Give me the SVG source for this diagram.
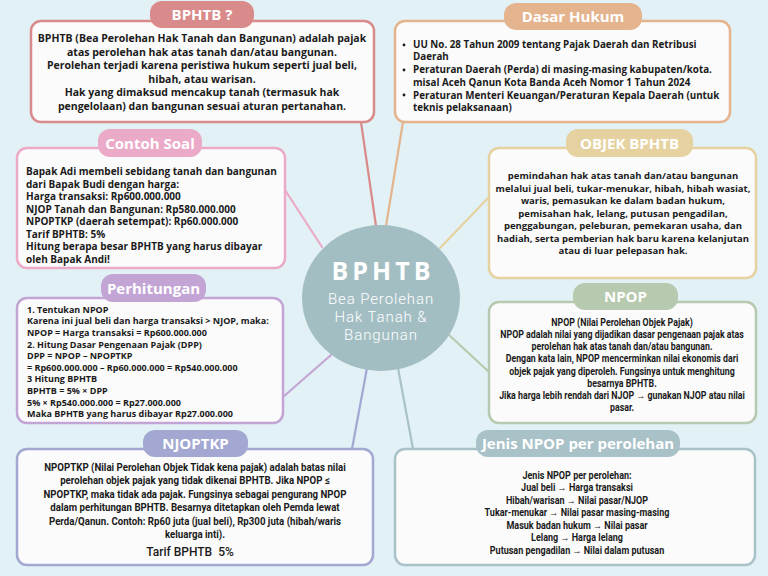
<svg xmlns="http://www.w3.org/2000/svg" width="768" height="576" viewBox="0 0 768 576">
<style>
.box{fill:#fbfbfb;stroke-width:2.5}
.t{font-family:"Open Sans","Liberation Sans",sans-serif;font-weight:700;fill:#1a1a1a}
.c{font-family:Roboto,"Liberation Sans",sans-serif;font-weight:700;fill:#1a1a1a}
.mid{text-anchor:middle}
.pt{font-family:"Open Sans","Liberation Sans",sans-serif;font-weight:700;font-size:15px;fill:#fff;text-anchor:middle}
.ln{fill:none;stroke-width:2.2;stroke-linecap:round}
.ct{font-family:Roboto,"Liberation Sans",sans-serif;font-weight:300;font-size:15px;letter-spacing:0.9px;fill:#fff;text-anchor:middle}
</style>
<rect width="768" height="576" fill="#e2f1f5"/>
<g id="connectors">
<line class="ln" stroke="#d98a8a" x1="361" y1="122" x2="376" y2="226"/>
<line class="ln" stroke="#e4b48f" x1="403" y1="122" x2="386" y2="226"/>
<line class="ln" stroke="#ebaac8" x1="285" y1="190" x2="322" y2="247"/>
<line class="ln" stroke="#e6d2a0" x1="489" y1="197" x2="440" y2="248"/>
<line class="ln" stroke="#c3a5d5" x1="283" y1="397" x2="331" y2="355"/>
<line class="ln" stroke="#b7c9ae" x1="489" y1="372" x2="448" y2="334"/>
<line class="ln" stroke="#a2a8d2" x1="352" y1="449" x2="367" y2="368"/>
<line class="ln" stroke="#a9c2c8" x1="413" y1="449" x2="398" y2="368"/>
</g>
<g id="center">
<ellipse cx="381" cy="298" rx="79" ry="73" fill="#a3bec3"/>
<text x="383" y="280" text-anchor="middle" font-family="'Open Sans','Liberation Sans',sans-serif" font-weight="700" font-size="25" letter-spacing="4" fill="#fff">BPHTB</text>
<text class="ct" x="381" y="304">Bea Perolehan</text>
<text class="ct" x="381" y="322">Hak Tanah &amp;</text>
<text class="ct" x="381" y="340">Bangunan</text>
</g>
<g id="bphtb">
<rect class="box" x="31" y="21" width="343" height="101" rx="10" stroke="#d98a8a"/>
<rect x="150" y="1" width="104" height="27" rx="12" fill="#d98a8a"/>
<text class="pt" x="202" y="20">BPHTB ?</text>
<g class="t mid" font-size="10.5">
<text x="202" y="42">BPHTB (Bea Perolehan Hak Tanah dan Bangunan) adalah pajak</text>
<text x="202" y="55.5">atas perolehan hak atas tanah dan/atau bangunan.</text>
<text x="202" y="69">Perolehan terjadi karena peristiwa hukum seperti jual beli,</text>
<text x="202" y="82.5">hibah, atau warisan.</text>
<text x="202" y="96">Hak yang dimaksud mencakup tanah (termasuk hak</text>
<text x="202" y="109.5">pengelolaan) dan bangunan sesuai aturan pertanahan.</text>
</g>
</g>
<g id="dasar-hukum">
<rect class="box" x="395" y="21" width="335" height="101" rx="10" stroke="#e4b48f"/>
<rect x="504" y="3" width="138" height="27" rx="12" fill="#e4b48f"/>
<text class="pt" x="573" y="22">Dasar Hukum</text>
<g fill="#1a1a1a"><circle cx="404" cy="45" r="1.4"/><circle cx="404" cy="70" r="1.4"/><circle cx="404" cy="95" r="1.4"/></g>
<g class="t" font-size="9.8">
<text x="413" y="48">UU No. 28 Tahun 2009 tentang Pajak Daerah dan Retribusi</text>
<text x="413" y="60">Daerah</text>
<text x="413" y="73">Peraturan Daerah (Perda) di masing-masing kabupaten/kota.</text>
<text x="413" y="85.5">misal Aceh Qanun Kota Banda Aceh Nomor 1 Tahun 2024</text>
<text x="413" y="98.5">Peraturan Menteri Keuangan/Peraturan Kepala Daerah (untuk</text>
<text x="413" y="111">teknis pelaksanaan)</text>
</g>
</g>
<g id="contoh-soal">
<rect class="box" x="17" y="148" width="268" height="120" rx="10" stroke="#ebaac8"/>
<rect x="98" y="129" width="104" height="28" rx="12" fill="#ebaac8"/>
<text class="pt" x="150" y="149">Contoh Soal</text>
<g class="t" font-size="10">
<text x="26" y="175">Bapak Adi membeli sebidang tanah dan bangunan</text>
<text x="26" y="187.5">dari Bapak Budi dengan harga:</text>
<text x="26" y="200">Harga transaksi: Rp600.000.000</text>
<text x="26" y="212.5">NJOP Tanah dan Bangunan: Rp580.000.000</text>
<text x="26" y="225">NPOPTKP (daerah setempat): Rp60.000.000</text>
<text x="26" y="237.5">Tarif BPHTB: 5%</text>
<text x="26" y="250">Hitung berapa besar BPHTB yang harus dibayar</text>
<text x="26" y="262.5">oleh Bapak Andi!</text>
</g>
</g>
<g id="objek">
<rect class="box" x="489" y="148" width="267" height="130" rx="10" stroke="#e6d2a0"/>
<rect x="566" y="129" width="127" height="28" rx="12" fill="#e6d2a0"/>
<text class="pt" x="629.5" y="149">OBJEK BPHTB</text>
<g class="t mid" font-size="9.5">
<text x="623" y="179">pemindahan hak atas tanah dan/atau bangunan</text>
<text x="623" y="191.5">melalui jual beli, tukar-menukar, hibah, hibah wasiat,</text>
<text x="623" y="204">waris, pemasukan ke dalam badan hukum,</text>
<text x="623" y="216.5">pemisahan hak, lelang, putusan pengadilan,</text>
<text x="623" y="229">penggabungan, peleburan, pemekaran usaha, dan</text>
<text x="623" y="241.5">hadiah, serta pemberian hak baru karena kelanjutan</text>
<text x="623" y="254">atau di luar pelepasan hak.</text>
</g>
</g>
<g id="perhitungan">
<rect class="box" x="17" y="298" width="266" height="125" rx="10" stroke="#c3a5d5"/>
<rect x="101" y="274" width="105" height="28" rx="12" fill="#c3a5d5"/>
<text class="pt" x="153.5" y="294">Perhitungan</text>
<g class="t" font-size="9">
<text x="27" y="312.5">1. Tentukan NPOP</text>
<text x="27" y="324.2">Karena ini jual beli dan harga transaksi &gt; NJOP, maka:</text>
<text x="27" y="335.8">NPOP = Harga transaksi = Rp600.000.000</text>
<text x="27" y="347.5">2. Hitung Dasar Pengenaan Pajak (DPP)</text>
<text x="27" y="359.1">DPP = NPOP – NPOPTKP</text>
<text x="27" y="370.8">= Rp600.000.000 – Rp60.000.000 = Rp540.000.000</text>
<text x="27" y="382.4">3 Hitung BPHTB</text>
<text x="27" y="394.1">BPHTB = 5% × DPP</text>
<text x="27" y="405.7">5% × Rp540.000.000 = Rp27.000.000</text>
<text x="27" y="417.4">Maka BPHTB yang harus dibayar Rp27.000.000</text>
</g>
</g>
<g id="npop">
<rect class="box" x="489" y="302" width="267" height="121" rx="10" stroke="#b7c9ae"/>
<rect x="573" y="283" width="105" height="27" rx="12" fill="#b7c9ae"/>
<text class="pt" x="625.5" y="302">NPOP</text>
<g transform="translate(622,0) scale(0.84,1)" class="c mid" font-size="10.5">
<text x="0" y="325.7">NPOP (Nilai Perolehan Objek Pajak)</text>
<text x="0" y="337.9">NPOP adalah nilai yang dijadikan dasar pengenaan pajak atas</text>
<text x="0" y="350.2">perolehan hak atas tanah dan/atau bangunan.</text>
<text x="0" y="362.4">Dengan kata lain, NPOP mencerminkan nilai ekonomis dari</text>
<text x="0" y="374.8">objek pajak yang diperoleh. Fungsinya untuk menghitung</text>
<text x="0" y="386.9">besarnya BPHTB.</text>
<text x="0" y="399.2">Jika harga lebih rendah dari NJOP → gunakan NJOP atau nilai</text>
<text x="0" y="411.5">pasar.</text>
</g>
</g>
<g id="njoptkp">
<rect class="box" x="17" y="449" width="356" height="116" rx="10" stroke="#a2a8d2"/>
<rect x="143" y="430" width="105" height="27" rx="12" fill="#a2a8d2"/>
<text class="pt" x="195.5" y="449">NJOPTKP</text>
<g transform="translate(195,0) scale(0.88,1)" class="c mid" font-size="11">
<text x="0" y="471">NPOPTKP (Nilai Perolehan Objek Tidak kena pajak) adalah batas nilai</text>
<text x="0" y="484.5">perolehan objek pajak yang tidak dikenai BPHTB. Jika NPOP ≤</text>
<text x="0" y="498">NPOPTKP, maka tidak ada pajak. Fungsinya sebagai pengurang NPOP</text>
<text x="0" y="511.3">dalam perhitungan BPHTB. Besarnya ditetapkan oleh Pemda lewat</text>
<text x="0" y="524.6">Perda/Qanun. Contoh: Rp60 juta (jual beli), Rp300 juta (hibah/waris</text>
<text x="0" y="538">keluarga inti).</text>
</g>
<text x="190" y="556" text-anchor="middle" font-family="Roboto,'Liberation Sans',sans-serif" font-weight="500" font-size="12" fill="#1a1a1a" xml:space="preserve">Tarif BPHTB  5%</text>
</g>
<g id="jenis-npop">
<rect class="box" x="395" y="449" width="360" height="116" rx="10" stroke="#a9c2c8"/>
<rect x="476" y="430" width="204" height="27" rx="12" fill="#a9c2c8"/>
<text class="pt" x="578" y="449">Jenis NPOP per perolehan</text>
<g transform="translate(577,0) scale(0.86,1)" class="c mid" font-size="10.5">
<text x="0" y="479">Jenis NPOP per perolehan:</text>
<text x="0" y="491.5">Jual beli → Harga transaksi</text>
<text x="0" y="504">Hibah/warisan → Nilai pasar/NJOP</text>
<text x="0" y="516.5">Tukar-menukar → Nilai pasar masing-masing</text>
<text x="0" y="529">Masuk badan hukum → Nilai pasar</text>
<text x="0" y="541.5">Lelang → Harga lelang</text>
<text x="0" y="554">Putusan pengadilan → Nilai dalam putusan</text>
</g>
</g>
</svg>
